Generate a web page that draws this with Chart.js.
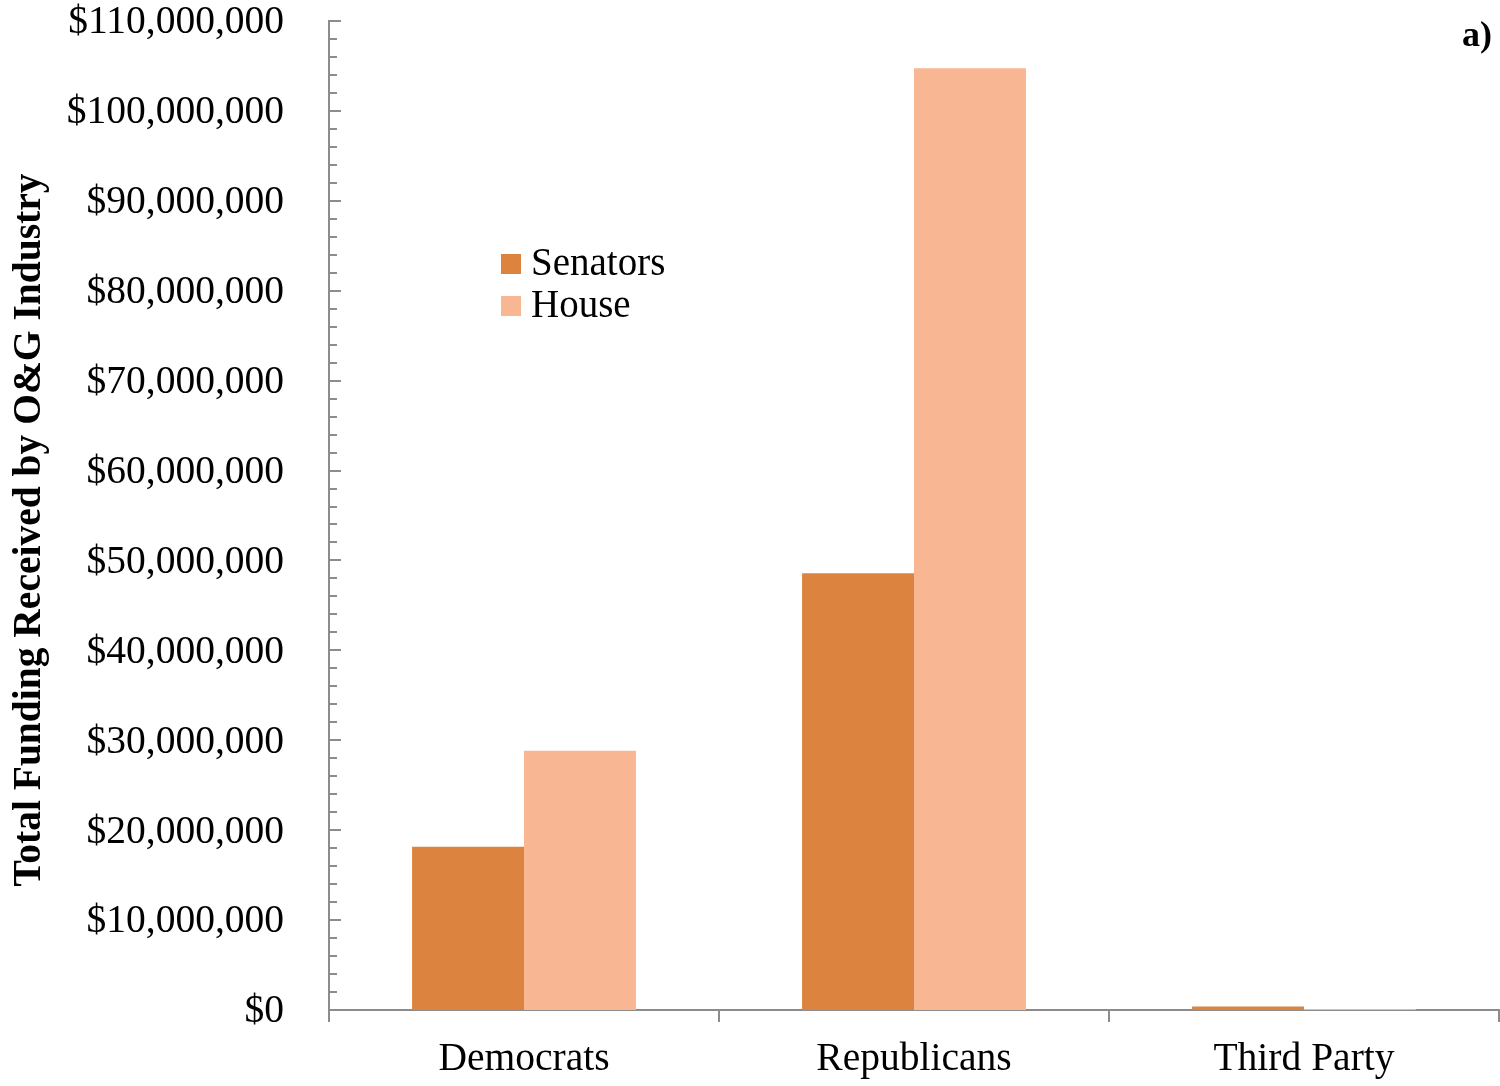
<!DOCTYPE html>
<html>
<head>
<meta charset="utf-8">
<script src="https://cdn.jsdelivr.net/npm/chart.js@4"></script>
<style>
  html, body { margin: 0; padding: 0; background: #fff; }
  #wrap { position: relative; width: 1500px; height: 1086px; }
</style>
</head>
<body>
<div id="wrap">
  <canvas id="c" width="1500" height="1086"></canvas>
</div>
<script>
const categories = ["Democrats", "Republicans", "Third Party"];
const senators = [18150000, 48570000, 400000];
const house = [28840000, 104750000, 120000];
const seriesNames = ["Senators", "House"];
const yMax = 110000000;
const yMajorStep = 10000000;
const yMinorStep = 2000000;
const axisTitle = "Total Funding Received by O&G Industry";
const panelLabel = "a)";

const colSen = "#DC843F";
const colHouse = "#F8B693";
const axisColor = "#8c8c8c";
const serif = '"Liberation Serif", "Times New Roman", serif';

const fmt = v => "$" + v.toLocaleString("en-US");

const insideTicks = {
  id: "insideTicks",
  afterDatasetsDraw(chart) {
    const y = chart.scales.y;
    const x0 = chart.chartArea.left;
    const ctx = chart.ctx;
    ctx.save();
    ctx.strokeStyle = axisColor;
    ctx.lineWidth = 2;
    for (let v = 0; v <= yMax; v += yMinorStep) {
      const py = Math.round(y.getPixelForValue(v));
      const len = (v % yMajorStep === 0) ? 12 : 8;
      ctx.beginPath();
      ctx.moveTo(x0, py);
      ctx.lineTo(x0 + len, py);
      ctx.stroke();
    }
    ctx.restore();
  }
};

const extras = {
  id: "extras",
  afterDraw(chart) {
    const ctx = chart.ctx;
    ctx.save();
    // legend inside plot
    ctx.font = "39px " + serif;
    ctx.textBaseline = "middle";
    ctx.textAlign = "left";
    chart.data.datasets.forEach((ds, i) => {
      const cy = 264 + i * 42;
      ctx.fillStyle = ds.backgroundColor;
      ctx.fillRect(501, cy - 10, 20, 20);
      ctx.fillStyle = "#000";
      ctx.fillText(ds.label, 531, cy + 1);
    });
    // axis title
    ctx.save();
    ctx.translate(30, 530);
    ctx.rotate(-Math.PI / 2);
    ctx.font = "bold 39.5px " + serif;
    ctx.textAlign = "center";
    ctx.textBaseline = "middle";
    ctx.fillText(axisTitle, 0, 0);
    ctx.restore();
    // panel label
    ctx.font = "bold 36px " + serif;
    ctx.textAlign = "right";
    ctx.textBaseline = "alphabetic";
    ctx.fillText(panelLabel, 1492, 46);
    ctx.restore();
  }
};

new Chart(document.getElementById("c"), {
  type: "bar",
  data: {
    labels: categories,
    datasets: [
      { label: seriesNames[0], data: senators, backgroundColor: colSen },
      { label: seriesNames[1], data: house, backgroundColor: colHouse }
    ]
  },
  options: {
    responsive: false,
    devicePixelRatio: 1,
    animation: false,
    layout: { padding: { top: 21, right: 1, left: 0, bottom: 0 } },
    datasets: { bar: { categoryPercentage: 0.574, barPercentage: 1.0 } },
    plugins: { legend: { display: false }, tooltip: { enabled: false } },
    scales: {
      x: {
        grid: { display: true, drawOnChartArea: false, drawTicks: true, tickLength: 12, color: axisColor, lineWidth: 2, offset: true },
        border: { display: true, color: axisColor, width: 2 },
        ticks: { font: { family: serif, size: 39.5 }, color: "#000", padding: 14 },
        afterFit(s) { s.height = 76; s.paddingLeft = 0; s.paddingRight = 0; }
      },
      y: {
        min: 0, max: yMax,
        grid: { display: false, drawTicks: false },
        border: { display: true, color: axisColor, width: 2 },
        ticks: { stepSize: yMajorStep, font: { family: serif, size: 39.5 }, color: "#000", padding: 45, labelOffset: 2, callback: v => fmt(v) },
        afterFit(s) { s.width = 329; s.paddingTop = 0; s.paddingBottom = 0; }
      }
    }
  },
  plugins: [insideTicks, extras]
});
</script>
</body>
</html>
